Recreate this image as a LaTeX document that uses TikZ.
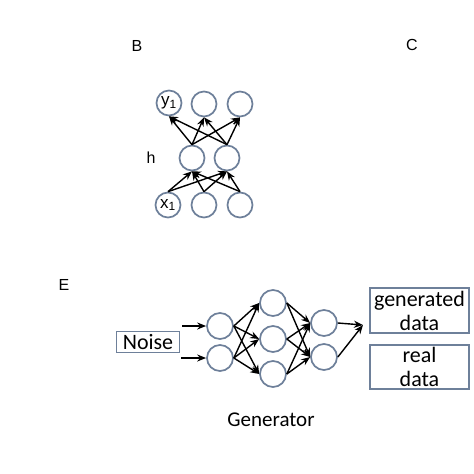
\documentclass[tikz,border=0pt]{standalone}
\usepackage{fontspec}
\setmainfont{Liberation Sans}
\newfontfamily\calib{Carlito}
\usetikzlibrary{arrows.meta}
\definecolor{ringcol}{HTML}{6E809A}

\begin{document}
\begin{tikzpicture}[x=1pt,y=-1pt,
  unit/.style={circle,draw=ringcol,line width=1.7pt,minimum size=25pt,inner sep=0pt,font=\fontsize{17}{17}\selectfont},
  databox/.style={draw=ringcol,line width=1.7pt,inner sep=0pt,align=center,font=\calib\fontsize{22}{24}\selectfont},
  link/.style={-{Stealth[length=9pt,width=7pt]},line width=1.4pt},
  panel/.style={font=\fontsize{16}{16}\selectfont}]
\useasboundingbox (0,0) rectangle (474,474);

\node[panel] (lb) at (137,46) {B};
\node[panel] (lc) at (412,45) {C};
\node[panel] (le) at (64,285) {E};

% panel B
\node[unit] (y1) at (169,103) {y\textsubscript{1}};
\node[unit] (y2) at (204,104) {};
\node[unit] (y3) at (240,104) {};
\node[unit] (h1) at (192,158) {};
\node[unit] (h2) at (227,158) {};
\node[unit] (x1) at (168,205) {x\textsubscript{1}};
\node[unit] (x2) at (204,205) {};
\node[unit] (x3) at (240,205) {};
\node[font=\fontsize{16}{16}\selectfont] (hl) at (151,158) {h};

\foreach \s in {h1,h2}
  \foreach \t in {y1,y2,y3}
    \draw[link] (\s.north) -- (\t.south);
\foreach \s in {x1,x2,x3}
  \foreach \t in {h1,h2}
    \draw[link] (\s.north) -- (\t.south);

% panel E
\node[draw=ringcol,line width=1.7pt,minimum width=63pt,minimum height=21pt,inner sep=0pt,font=\calib\fontsize{22}{22}\selectfont] (noise) at (148,342) {Noise};

\node[unit,minimum size=26pt] (g1a) at (220,326) {};
\node[unit,minimum size=26pt] (g1b) at (220,358) {};
\node[unit,minimum size=26pt] (g2a) at (273,303) {};
\node[unit,minimum size=26pt] (g2b) at (273,339) {};
\node[unit,minimum size=26pt] (g2c) at (273,374) {};
\node[unit,minimum size=26pt] (g3a) at (324,323) {};
\node[unit,minimum size=26pt] (g3b) at (324,357) {};

\coordinate (in1) at (182,326);
\coordinate (in2) at (181,358);
\draw[link] (in1) -- (g1a.west);
\draw[link] (in2) -- (g1b.west);

\foreach \s in {g1a,g1b}
  \foreach \t in {g2a,g2b,g2c}
    \draw[link] (\s.east) -- (\t.west);
\foreach \s in {g2a,g2b,g2c}
  \foreach \t in {g3a,g3b}
    \draw[link] (\s.east) -- (\t.west);

\node[databox,minimum width=99pt,minimum height=45pt] (gen) at (419.5,310.5) {generated\\data};
\node[databox,minimum width=99pt,minimum height=44pt] (real) at (419.5,367) {real\\data};

\coordinate (gin) at (363,325);
\draw[link] (g3a.east) -- (gin);
\draw[link] (g3b.east) -- (gin);

\node[font=\calib\fontsize{21}{21}\selectfont] (glabel) at (271,420) {Generator};
\end{tikzpicture}
\end{document}
